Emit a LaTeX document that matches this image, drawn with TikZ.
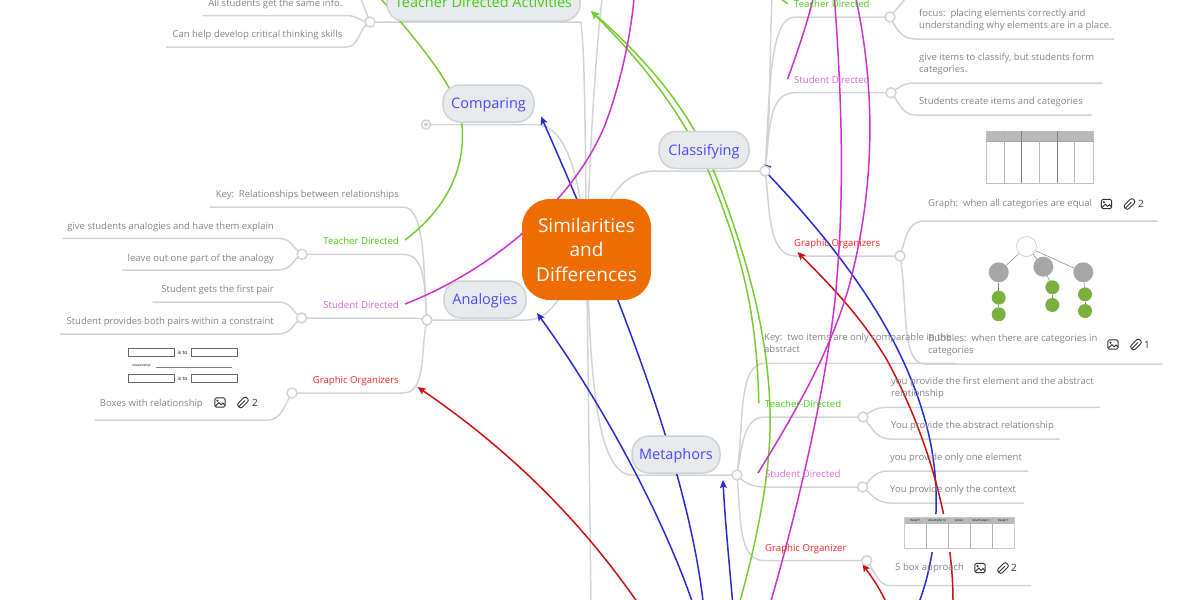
\documentclass[tikz,border=0pt]{standalone}
\usepackage{fontspec}
\setmainfont{Open Sans}
\usetikzlibrary{arrows.meta}
\pgfdeclarelayer{bg}
\pgfsetlayers{bg,main}
\definecolor{rootc}{HTML}{EE6C00}
\definecolor{nodec}{HTML}{E8EAED}
\definecolor{nodeb}{HTML}{CFD3D3}
\definecolor{linkb}{HTML}{4A4AF5}
\definecolor{lineg}{HTML}{D2D4D4}
\definecolor{leafc}{HTML}{80858A}
\definecolor{tgreen}{HTML}{44CC11}
\definecolor{tmag}{HTML}{DD66DD}
\definecolor{tred}{HTML}{FF2222}
\definecolor{rblue}{HTML}{2A2AD0}
\definecolor{rred}{HTML}{CC1111}
\definecolor{rgreen}{HTML}{77CC33}
\definecolor{rmag}{HTML}{CC33CC}
\definecolor{bubg}{HTML}{7CB03C}
\tikzset{
 x=1pt,y=-1pt,
 rootbox/.style={draw=none,fill=rootc,rounded corners=28,minimum width=129,minimum height=101,text=white,align=center,font=\fontsize{19}{24.5}\selectfont,inner sep=0},
 topicbox/.style={draw=nodeb,line width=1.5,fill=nodec,rounded corners=17,minimum height=37,inner sep=0,text=linkb,text height=10,text depth=0,font=\fontsize{14.5}{18}\selectfont},
 jct/.style={circle,draw=lineg,line width=1.5,fill=white,minimum size=10,inner sep=0},
 leafl/.style={anchor=base east,inner sep=0,yshift=-1pt,text=leafc,font=\fontsize{9.5}{12}\selectfont},
 leafr/.style={anchor=north west,inner sep=0,yshift=-2pt,text=leafc,align=left,font=\fontsize{9.5}{12}\selectfont},
 lab/.style={anchor=base east,inner sep=0,yshift=-.7pt,font=\fontsize{9.6}{12}\selectfont},
 labr/.style={anchor=base west,inner sep=0,yshift=-.7pt,font=\fontsize{9.6}{12}\selectfont},
 tgn/.style={text=tgreen},tmg/.style={text=tmag},trd/.style={text=tred},
 branch/.style={draw=lineg,line width=1.5,line cap=round},
 rel/.style={line width=1.5},
 tipped/.style={-{Stealth[length=8,width=7,inset=1.5]}},
 imgicon/.pic={
  \begin{scope}[scale=1.15]
  \draw[line width=1,rounded corners=1.5,draw=black!80] (-4.5,-4) rectangle (4.5,4);
  \fill[black!80] (-2.2,-1.6) circle (1);
  \draw[line width=1,draw=black!80] (-4,3) -- (-1,.2) -- (1,2) -- (2.5,.5) -- (4.2,2.2);
  \end{scope}
 },
 clipicon/.pic={
  \begin{scope}[rotate=45,scale=1.1]
  \draw[line width=.9,draw=black!80,rounded corners=2.4] (-5.5,-2.6) rectangle (5.5,2.6);
  \draw[line width=.9,draw=black!80,rounded corners=1.2] (-5.5,0) -- (2.5,0);
  \end{scope}
 },
 sline/.style={draw=gray,line width=.5},
 numtxt/.style={inner sep=0,text=black!80,font=\fontsize{10}{12}\selectfont},
 tiny5/.style={inner sep=0,font=\fontsize{2.8}{3}\selectfont},
 bubgrey/.style={circle,fill=gray!70,minimum size=20,inner sep=0},
 bubgreen/.style={circle,fill=bubg,minimum size=14,inner sep=0},
}
\begin{document}
\begin{tikzpicture}
\useasboundingbox (0,0) rectangle (1200,600);
% ---------- topics
\node[rootbox] (root) at (586.5,249.5) {Similarities\\and\\Differences};
\node[topicbox,minimum width=91] (cmp) at (488.5,103.5) {Comparing};
\node[topicbox,minimum width=193,text=tgreen] (tda) at (483.5,2.5) {Teacher Directed Activities};
\node[topicbox,minimum width=90] (cls) at (704,150) {Classifying};
\node[topicbox,minimum width=82] (ana) at (485,299.5) {Analogies};
\node[topicbox,minimum width=88] (met) at (676,454.5) {Metaphors};
% ---------- junctions
\node[jct] (jTop) at (370,22) {};
\node[jct,minimum size=9] (jCmp) at (426,124.5) {};
\fill[lineg] (jCmp) circle (2);
\node[jct] (jAna) at (427,320) {};
\node[jct] (jAT) at (302,254.3) {};
\node[jct] (jAS) at (301.6,318) {};
\node[jct] (jAG) at (292,393) {};
\node[jct] (jCls) at (765,171) {};
\node[jct] (jCT) at (890,17) {};
\node[jct] (jCS) at (891,92.7) {};
\node[jct] (jCG) at (900,256) {};
\node[jct] (jMet) at (737,475) {};
\node[jct] (jMT) at (863,417) {};
\node[jct] (jMS) at (862.5,487) {};
\node[jct] (jMG) at (866.7,560.7) {};
% ---------- labels
\node[lab,tgn] (l1) at (399,243.5) {Teacher Directed};
\node[lab,tmg] (l2) at (399,307.5) {Student Directed};
\node[lab,trd] (l3) at (399,382.5) {Graphic Organizers};
\node[labr,tgn] (l4) at (794,6.5) {Teacher Directed};
\node[labr,tmg] (l5) at (794,82.5) {Student Directed};
\node[labr,trd] (l6) at (794,245.5) {Graphic Organizers};
\node[labr,tgn] (l7) at (765,406.5) {Teacher-Directed};
\node[labr,tmg] (l8) at (765,476.5) {Student Directed};
\node[labr,trd] (l9) at (765,550.5) {Graphic Organizer};
% ---------- left leaves
\node[leafl] (t1) at (342.5,5.5) {All students get the same info.};
\node[leafl] (t2) at (342.5,36.5) {Can help develop critical thinking skills};
\node[leafl] (t3) at (399,196.5) {Key:\ \ Relationships between relationships};
\node[leafl] (t4) at (274,228.5) {give students analogies and have them explain};
\node[leafl] (t5) at (274,260) {leave out one part of the analogy};
\node[leafl] (t6) at (274,291.5) {Student gets the first pair};
\node[leafl] (t7) at (274,323.5) {Student provides both pairs within a constraint};
\node[leafl] (t8) at (203,405.5) {Boxes with relationship};
% ---------- right leaves
\node[leafr] (r1) at (919,7) {focus:\ \ placing elements correctly and\\understanding why elements are in a place.};
\node[leafr] (r2) at (919,51) {give items to classify, but students form\\categories.};
\node[leafr] (r3) at (919,95) {Students create items and categories};
\node[leafr] (r4) at (928,197) {Graph:\ \ when all categories are equal};
\node[leafr] (r5) at (928,332) {Bubbles:\ \ when there are categories in\\categories};
\node[leafr] (r6) at (764,331.5) {Key:\ \ two items are only comparable in the\\abstract};
\node[leafr] (r7) at (891,375) {you provide the first element and the abstract\\relationship};
\node[leafr] (r8) at (891,419) {You provide the abstract relationship};
\node[leafr] (r9) at (890,451) {you provide only one element};
\node[leafr] (r10) at (890,483) {You provide only the context};
\node[leafr] (r11) at (895,561) {5 box approach};
% ---------- icons
\pic at (220,402.5) {imgicon};
\pic at (243,402.5) {clipicon};
\node[numtxt] (n1) at (255,402.5) {2};
\pic at (1106.5,204) {imgicon};
\pic at (1129.5,204) {clipicon};
\node[numtxt] (n2) at (1141,204) {2};
\pic at (1113,344.5) {imgicon};
\pic at (1136,344.5) {clipicon};
\node[numtxt] (n3) at (1147,344.5) {1};
\pic at (980,568) {imgicon};
\pic at (1003,568) {clipicon};
\node[numtxt] (n4) at (1014,568) {2};
% ---------- image: boxes with relationship
\draw[draw=gray!80!black,line width=.8] (128,348.7) rectangle (174,356.7);
\draw[draw=gray!80!black,line width=.8] (191,348.7) rectangle (237.3,356.7);
\draw[draw=gray!80!black,line width=.8] (128,374.4) rectangle (174,382.7);
\draw[draw=gray!80!black,line width=.8] (191,374.4) rectangle (237.3,382.7);
\node[inner sep=0,font=\fontsize{5}{6}\selectfont] (is1) at (182.5,352.7) {is to};
\node[inner sep=0,font=\fontsize{5}{6}\selectfont] (is2) at (182.5,378.7) {is to};
\node[inner sep=0,font=\fontsize{3.3}{4}\selectfont] (rell) at (141.6,365.7) {relationship:};
\draw[sline] (156,367.7) -- (232,367.7);
% ---------- image: 6 column table
\fill[gray!55] (986,131) rectangle (1093,141);
\draw[draw=gray!50,line width=.7] (986,131) rectangle (1093,183);
\draw[draw=gray!70,line width=.7] (986,141) -- (1093,141);
\foreach \vx/\vc in {1004/60,1021/100,1039/55,1057/100,1074.5/55}
  \draw[draw=gray!\vc,line width=.6] (\vx,131) -- (\vx,183);
% ---------- image: bubbles
\node[circle,draw=gray!60,fill=white,minimum size=20,inner sep=0] (b0) at (1026.5,246.5) {};
\node[bubgrey] (b1) at (998.7,272.3) {};
\node[bubgrey] (b2) at (1043.3,266.7) {};
\node[bubgrey] (b3) at (1083.3,272.3) {};
\node[bubgreen] (g1) at (998.7,297.7) {};
\node[bubgreen] (g2) at (998.7,314.3) {};
\node[bubgreen] (g3) at (1052.3,287.3) {};
\node[bubgreen] (g4) at (1052.3,305) {};
\node[bubgreen] (g5) at (1085,294.3) {};
\node[bubgreen] (g6) at (1085,311) {};
\draw[sline] (b0) -- (b1); \draw[sline] (b0) -- (b2); \draw[sline] (b0) -- (b3);
\draw[sline] (b1) -- (g1); \draw[sline] (g1) -- (g2);
\draw[sline] (b2) -- (g3); \draw[sline] (g3) -- (g4);
\draw[sline] (b3) -- (g5); \draw[sline] (g5) -- (g6);
% ---------- image: 5 box table (masks the relationship lines)
\fill[white] (904,514) rectangle (1015,551.5);
\fill[gray!55] (904.5,517.3) rectangle (1014.5,524);
\draw[draw=gray!40,line width=.7] (904.5,517.3) rectangle (1014.5,548.7);
\foreach \vx in {926.7,948.3,970.3,992.3}
  \draw[draw=gray!60,line width=.6] (\vx,517.3) -- (\vx,548.7);
\node[tiny5] (h1) at (915.5,520.5) {Result 1};
\node[tiny5] (h2) at (937.5,520.5) {Idea/Pattern 1};
\node[tiny5] (h3) at (959.3,520.5) {Action};
\node[tiny5] (h4) at (981.3,520.5) {Idea/Pattern 1};
\node[tiny5] (h5) at (1003.4,520.5) {Result 1};
% ---------- free ends
\coordinate (a1) at (203,15.5);
\coordinate (a2) at (166.5,47);
\coordinate (a3) at (361,-1);
\coordinate (a4) at (210,207);
\coordinate (a5) at (63,238.3);
\coordinate (a6) at (122.5,270);
\coordinate (a7) at (153,302);
\coordinate (a8) at (60.5,334);
\coordinate (a9) at (95,420);
\coordinate (b10) at (1113.6,39);
\coordinate (b11) at (905,-1);
\coordinate (b12) at (1102,83);
\coordinate (b13) at (1091,115);
\coordinate (b14) at (1157,221);
\coordinate (b15) at (1162,364);
\coordinate (b16) at (772,-1);
\coordinate (b17) at (956,363.3);
\coordinate (b18) at (1099.4,407.3);
\coordinate (b19) at (1059,439);
\coordinate (b20) at (1027.5,471);
\coordinate (b21) at (1023.6,503);
\coordinate (b22) at (1030.5,585.7);
\coordinate (c1) at (602,-1);
\coordinate (c2) at (591,601);
% relation ends
\coordinate (e1) at (541,116.5);
\coordinate (e2) at (537,313);
\coordinate (e3) at (723,480);
\coordinate (e4) at (591,11);
\coordinate (e5) at (417.5,387);
\coordinate (e6) at (797.5,252);
\coordinate (e7) at (862.5,563.5);
\coordinate (e8) at (758.8,403.3);
\coordinate (e9) at (405,240);
\coordinate (e10) at (405,304);
\coordinate (e11) at (787.5,79.3);
\coordinate (e12) at (758,473);
\coordinate (e13) at (781,-1);
\coordinate (e14) at (787.7,3.6);
\coordinate (e15) at (764.5,165.2);
\coordinate (e16) at (771,167);
\coordinate (f1) at (703,601);
\coordinate (f2) at (692,601);
\coordinate (f3) at (732.5,601);
\coordinate (f4) at (740,601);
\coordinate (f5) at (919.5,601);
\coordinate (f6) at (636.5,601);
\coordinate (f7) at (953,601);
\coordinate (f8) at (885.5,601);
\coordinate (f9) at (771,601);
\coordinate (f10) at (634,-1);
\coordinate (f11) at (813,-1);
\coordinate (f12) at (834.5,-1);
\coordinate (f13) at (856,-1);
\coordinate (f14) at (381,-1);
\begin{pgfonlayer}{bg}
% ---------- mind map branches
\draw[branch] (root.center) .. controls (585,120) and (585,60) .. (581,22) -- (jTop.center);
\draw[branch] (jTop.center) .. controls (360,22) and (358,15.5) .. (346,15.5) -- (a1);
\draw[branch] (jTop.center) .. controls (358,28) and (360,47) .. (346,47) -- (a2);
\draw[branch] (jTop.center) -- (a3);
\draw[branch] (root.center) .. controls (580,175) and (566,125) .. (536,124.5) -- (jCmp.center);
\draw[branch] (root.center) .. controls (560,300) and (550,320) .. (526,320) -- (jAna.center);
\draw[branch] (jAna.center) .. controls (423,280) and (427,207) .. (403,207) -- (a4);
\draw[branch] (jAna.center) .. controls (424,290) and (427,254.3) .. (403,254.3) -- (jAT.center);
\draw[branch] (jAna.center) .. controls (420,318) and (412,318) .. (400,318) -- (jAS.center);
\draw[branch] (jAna.center) .. controls (420,350) and (427,393) .. (403,393) -- (jAG.center);
\draw[branch] (jAT.center) .. controls (292,248) and (292,238.3) .. (278,238.3) -- (a5);
\draw[branch] (jAT.center) .. controls (292,260) and (292,270) .. (278,270) -- (a6);
\draw[branch] (jAS.center) .. controls (292,312) and (292,302) .. (278,302) -- (a7);
\draw[branch] (jAS.center) .. controls (292,324) and (292,334) .. (278,334) -- (a8);
\draw[branch] (jAG.center) .. controls (285,403) and (282,420) .. (268,420) -- (a9);
\draw[branch] (root.center) .. controls (610,190) and (625,171) .. (657,171) -- (jCls.center);
\draw[branch] (jCls.center) .. controls (771,120) and (769,60) .. (b16);
\draw[branch] (jCls.center) .. controls (770,100) and (768,17) .. (795,17) -- (jCT.center);
\draw[branch] (jCls.center) .. controls (770,130) and (768,92.7) .. (795,92.7) -- (jCS.center);
\draw[branch] (jCls.center) .. controls (770,200) and (766,256) .. (795,256) -- (jCG.center);
\draw[branch] (jCT.center) .. controls (897,30) and (902,39) .. (915,39) -- (b10);
\draw[branch] (jCT.center) -- (b11);
\draw[branch] (jCS.center) .. controls (898,88) and (904,83) .. (914,83) -- (b12);
\draw[branch] (jCS.center) .. controls (898,100) and (902,115) .. (915,115) -- (b13);
\draw[branch] (jCG.center) .. controls (906,240) and (906,221) .. (925,221) -- (b14);
\draw[branch] (jCG.center) .. controls (908,300) and (900,364) .. (925,364) -- (b15);
\draw[branch] (root.center) .. controls (590,330) and (590,475) .. (632,475) -- (jMet.center);
\draw[branch] (jMet.center) .. controls (744,420) and (738,363.3) .. (765,363.3) -- (b17);
\draw[branch] (jMet.center) .. controls (742,450) and (742,417) .. (765,417) -- (jMT.center);
\draw[branch] (jMet.center) .. controls (744,482) and (750,487) .. (765,487) -- (jMS.center);
\draw[branch] (jMet.center) .. controls (741,520) and (738,560.7) .. (765,560.7) -- (jMG.center);
\draw[branch] (jMT.center) .. controls (870,412) and (875,407.3) .. (888,407.3) -- (b18);
\draw[branch] (jMT.center) .. controls (870,424) and (875,439) .. (890,439) -- (b19);
\draw[branch] (jMS.center) .. controls (870,482) and (873,471) .. (888,471) -- (b20);
\draw[branch] (jMS.center) .. controls (870,492) and (875,503) .. (890,503) -- (b21);
\draw[branch] (jMG.center) .. controls (874,570) and (878,585.7) .. (890,585.7) -- (b22);
\draw[branch] (root.center) .. controls (590,150) and (595,60) .. (c1);
\draw[branch] (root.center) -- (c2);
% ---------- relationships: blue
\draw[rel,rblue,tipped] (f1) .. controls (690,490) and (640,340) .. (e1);
\draw[rel,rblue,tipped] (f2) .. controls (660,510) and (600,400) .. (e2);
\draw[rel,rblue,tipped] (f3) .. controls (729,560) and (725,520) .. (e3);
\draw[rel,rblue] (f5) .. controls (935,560) and (945,490) .. (925,420) .. controls (900,330) and (840,250) .. (jCls.center);
\draw[rel,rblue] (e15) -- (e16);
% ---------- relationships: red
\draw[rel,rred,tipped] (f6) .. controls (580,520) and (510,450) .. (e5);
\draw[rel,rred,tipped] (f7) .. controls (953,520) and (925,430) .. (887,360) .. controls (860,315) and (830,285) .. (e6);
\draw[rel,rred,tipped] (f8) .. controls (878,585) and (870,575) .. (e7);
% ---------- relationships: green
\draw[rel,rgreen,tipped] (e8) .. controls (757,320) and (745,260) .. (708,170) .. controls (680,110) and (640,60) .. (e4);
\draw[rel,rgreen,tipped] (f4) .. controls (760,530) and (772,460) .. (770,410) .. controls (768,330) and (745,250) .. (713,169) .. controls (690,110) and (645,58) .. (e4);
\draw[rel,rgreen] (e9) .. controls (445,210) and (466,170) .. (462,125) .. controls (460,95) and (430,55) .. (f14);
\draw[rel,rgreen] (e13) -- (e14);
% ---------- relationships: magenta
\draw[rel,rmag] (e10) .. controls (480,275) and (570,210) .. (605,125) .. controls (620,85) and (630,40) .. (f10);
\draw[rel,rmag] (e11) .. controls (800,45) and (808,20) .. (f11);
\draw[rel,rmag] (f9) .. controls (800,500) and (825,390) .. (835,300) .. controls (845,200) and (842,100) .. (f12);
\draw[rel,rmag] (e12) .. controls (800,405) and (830,350) .. (848,290) .. controls (870,210) and (880,110) .. (f13);
\end{pgfonlayer}
\end{tikzpicture}
\end{document}
